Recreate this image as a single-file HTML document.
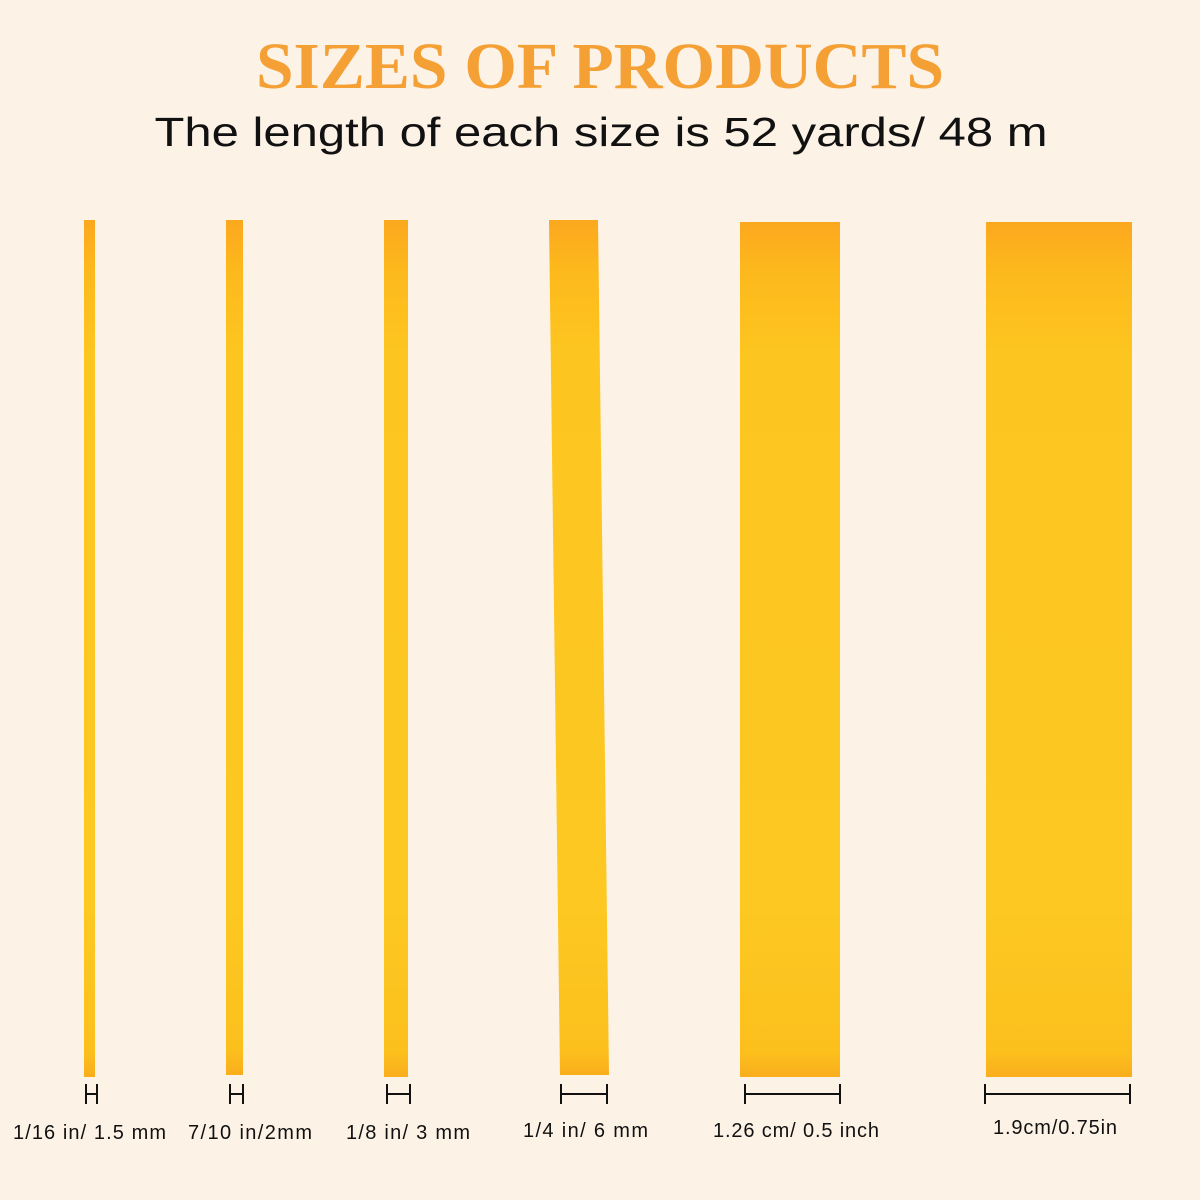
<!DOCTYPE html>
<html><head><meta charset="utf-8"><style>
html,body{margin:0;padding:0;background:#fdf2e6;}
svg{display:block}
</style></head><body>
<svg width="1200" height="1200" viewBox="0 0 1200 1200" xmlns="http://www.w3.org/2000/svg">
<defs>
<linearGradient id="g" x1="0" y1="0" x2="0" y2="1">
<stop offset="0" stop-color="#fba81e"/>
<stop offset="0.06" stop-color="#fdb91c"/>
<stop offset="0.15" stop-color="#fdc520"/>
<stop offset="0.8" stop-color="#fdc822"/>
<stop offset="0.97" stop-color="#fcc01d"/>
<stop offset="1" stop-color="#f9ae1c"/>
</linearGradient>
</defs>
<rect width="1200" height="1200" fill="#fdf2e6"/>
<text x="600" y="88" text-anchor="middle" font-family="Liberation Serif, serif" font-weight="bold" font-size="66" fill="#f4a035" textLength="688" lengthAdjust="spacingAndGlyphs">SIZES OF PRODUCTS</text>
<text x="601" y="146" text-anchor="middle" font-family="Liberation Sans, sans-serif" font-size="41" fill="#111" textLength="893" lengthAdjust="spacingAndGlyphs">The length of each size is 52 yards/ 48 m</text>

<g fill="url(#g)">
<rect x="84" y="220" width="11" height="857"/>
<rect x="226" y="220" width="17" height="855"/>
<rect x="384" y="220" width="24" height="857"/>
<polygon points="549,220 598,220 609,1075 560,1075"/>
<rect x="740" y="222" width="100" height="855"/>
<rect x="986" y="222" width="146" height="855"/>
</g>

<g stroke="#111" stroke-width="2" fill="none">
<path d="M86 1084V1104M97 1084V1104M86 1094H97"/>
<path d="M230 1084V1104M243 1084V1104M230 1094H243"/>
<path d="M387 1084V1104M410 1084V1104M387 1094H410"/>
<path d="M561 1084V1104M607 1084V1104M561 1094H607"/>
<path d="M745 1084V1104M840 1084V1104M745 1094H840"/>
<path d="M985 1084V1104M1130 1084V1104M985 1094H1130"/>
</g>
<g font-family="Liberation Sans, sans-serif" font-size="20" fill="#111" lengthAdjust="spacingAndGlyphs">
<text x="13" y="1139" textLength="153">1/16 in/ 1.5 mm</text>
<text x="188" y="1139" textLength="124">7/10 in/2mm</text>
<text x="346" y="1139" textLength="124">1/8 in/ 3 mm</text>
<text x="523" y="1137" textLength="125">1/4 in/ 6 mm</text>
<text x="713" y="1137" textLength="166">1.26 cm/ 0.5 inch</text>
<text x="993" y="1134" textLength="124">1.9cm/0.75in</text>
</g>
</svg>
</body></html>
